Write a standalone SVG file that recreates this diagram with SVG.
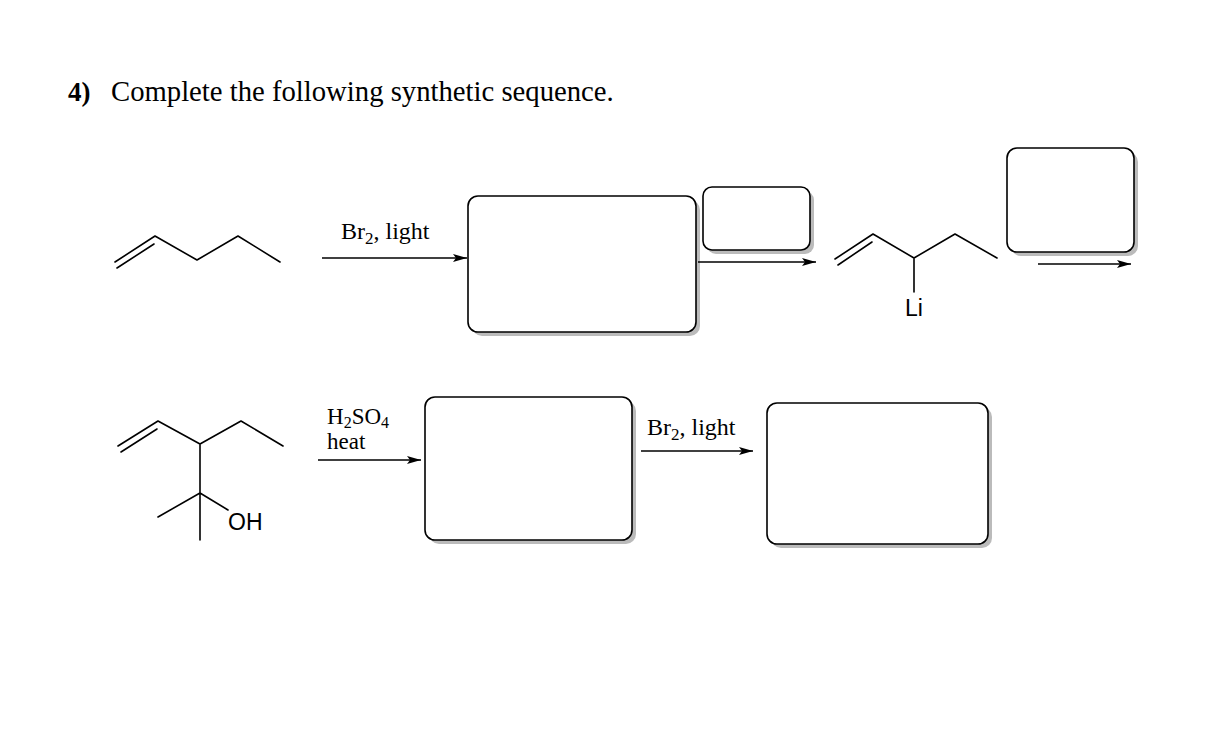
<svg xmlns="http://www.w3.org/2000/svg" width="1212" height="740" viewBox="0 0 1212 740">
<defs>
<style>
.t{font-family:"Liberation Serif",serif;fill:#000}
.b{stroke:#000;stroke-width:1.6;fill:none;stroke-linecap:round;stroke-linejoin:round}
.box{fill:#fff;stroke:#000;stroke-width:1.6}
.sh{fill:#bbb}
.a{stroke:#000;stroke-width:1.4;fill:none}
.s{font-family:"Liberation Sans",sans-serif;font-size:23px;fill:#000}
</style>
<marker id="ah" markerWidth="14" markerHeight="8" refX="14" refY="4" orient="auto" markerUnits="userSpaceOnUse"><path d="M0,0 L14,4 L0,8 L3,4 Z" fill="#000"/></marker>
</defs>
<rect width="1212" height="740" fill="#fff"/>
<text class="t" x="68" y="101" font-size="27" font-weight="bold">4)</text>
<text class="t" x="111" y="101" font-size="28.7">Complete the following synthetic sequence.</text>
<g id="mol1"><path class="b" d="M115,262 L155,236 L197,260 L238,236 L280,262"/><path class="b" d="M117,268 L154,244"/></g>
<g id="box1"><rect class="sh" x="472" y="200" width="228" height="136" rx="10"/><rect class="box" x="468" y="196" width="228" height="136" rx="10"/></g>
<g id="box2"><rect class="sh" x="707" y="191" width="107" height="63" rx="9"/><rect class="box" x="703" y="187" width="107" height="63" rx="9"/></g>
<g id="mol2"><path class="b" d="M835,259 L873,234 L914,258 L955,234 L997,258 M914,258 L914,292"/><path class="b" d="M838,265 L872,242"/><text class="s" x="905" y="316">Li</text></g>
<g id="box3"><rect class="sh" x="1011" y="152" width="127" height="104" rx="10"/><rect class="box" x="1007" y="148" width="127" height="104" rx="10"/></g>
<g id="mol3"><path class="b" d="M118,446 L158,421 L200,444 L241,421 L283,446 M200,444 L200,493 L158,517 M200,493 L200,540 M200,493 L228,510"/><path class="b" d="M121,452 L157,429"/><text class="s" x="228" y="530">OH</text></g>
<g id="box4"><rect class="sh" x="429" y="401" width="207" height="143" rx="10"/><rect class="box" x="425" y="397" width="207" height="143" rx="10"/></g>
<g id="box5"><rect class="sh" x="771" y="407" width="221" height="141" rx="10"/><rect class="box" x="767" y="403" width="221" height="141" rx="10"/></g>
<g id="connectors">
<line class="a" x1="322" y1="258" x2="467" y2="258" marker-end="url(#ah)"/>
<line class="a" x1="698" y1="262" x2="816" y2="262" marker-end="url(#ah)"/>
<line class="a" x1="1038" y1="264" x2="1131" y2="264" marker-end="url(#ah)"/>
<line class="a" x1="318" y1="460" x2="421" y2="460" marker-end="url(#ah)"/>
<line class="a" x1="641" y1="451" x2="753" y2="451" marker-end="url(#ah)"/>
</g>
<g id="labels">
<text class="t" x="341" y="239" font-size="24">Br<tspan font-size="17" dy="5">2</tspan><tspan dy="-5">, light</tspan></text>
<text class="t" x="327" y="424" font-size="23">H<tspan font-size="16" dy="4">2</tspan><tspan dy="-4">SO</tspan><tspan font-size="16" dy="4">4</tspan></text>
<text class="t" x="327" y="449" font-size="23">heat</text>
<text class="t" x="647" y="435" font-size="24">Br<tspan font-size="17" dy="5">2</tspan><tspan dy="-5">, light</tspan></text>
</g>
</svg>
